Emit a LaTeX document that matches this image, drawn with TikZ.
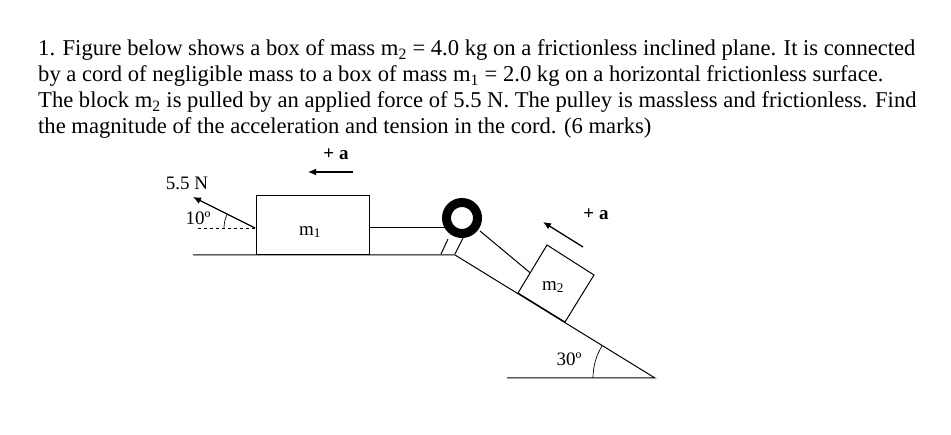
\documentclass[tikz,border=0pt]{standalone}
\usepackage{fontspec}
\setmainfont{Liberation Serif}
\usetikzlibrary{calc,arrows.meta}
\begin{document}
\begin{tikzpicture}[x=1pt,y=-1pt,
  txt/.style={anchor=base west,inner sep=0,font=\fontsize{22.6}{26}\selectfont},
  lbl/.style={inner sep=0,font=\fontsize{19}{22}\selectfont},
  ln/.style={line width=1pt},
  arr/.style={line width=1.3pt,-{Latex[length=8pt,width=7pt]}}]
\useasboundingbox (0,0) rectangle (951,435);
\node[txt] (l1) at (38,56) {1. Figure below shows a box of mass m\textsubscript{2} = 4.0 kg on a frictionless inclined plane. It is connected};
\node[txt] (l2) at (38,82) {by a cord of negligible mass to a box of mass m\textsubscript{1} = 2.0 kg on a horizontal frictionless surface.};
\node[txt] (l3) at (38,108) {The block m\textsubscript{2} is pulled by an applied force of 5.5 N. The pulley is massless and frictionless. Find};
\node[txt] (l4) at (38,134) {the magnitude of the acceleration and tension in the cord. (6 marks)};
% ground
\coordinate (g0) at (193,255); \coordinate (edge) at (455,255);
\coordinate (bot) at (655,378); \coordinate (b0) at (507,378);
\draw[ln] (g0) -- (edge) -- (bot) -- (b0);
% box m1
\node[ln,draw,minimum width=113,minimum height=59,inner sep=0] (m1) at (312.5,225.5) {};
\node[lbl] (m1t) at (310,232) {m\textsubscript{1}};
% pulley
\node[circle,draw,line width=9pt,minimum size=31,inner sep=0] (p) at (462,218) {};
\draw[ln] (441,254) -- (448,239);
\draw[ln] (455,254) -- (463,238);
% cords
\draw[ln] (m1.east |- 0,228) coordinate (c1) -- (446,228) coordinate (c2);
% box m2
\coordinate (q1) at (518,293); \coordinate (q2) at (547,245);
\coordinate (q3) at (594,275); \coordinate (q4) at (565,322);
\draw[ln] (q1) -- (q2) -- (q3) -- (q4) -- cycle;
\node[lbl] (m2t) at (553,287) {m\textsubscript{2}};
\draw[ln] (480,231) -- ($(q1)!0.42!(q2)$);
% arrows
\draw[arr] (353,172) -- (308,172);
\node[lbl,font=\fontsize{19}{22}\selectfont\bfseries] (a1) at (336,154) {+ a};
\draw[arr] (583,247) -- (543,222);
\node[lbl,font=\fontsize{19}{22}\selectfont\bfseries] (a2) at (596,214) {+ a};
% applied force
\draw[arr] (255,228) -- (193,197);
\node[lbl] (f) at (187,183) {5.5 N};
\draw[dashed,line width=0.8pt] (198,228) -- (255,228);
\draw[line width=0.7pt] (224,228) arc[start angle=180,end angle=207,radius=31];
\node[lbl] (ang1) at (198,218) {10º};
% 30 deg
\draw[line width=0.7pt] (593,378) arc[start angle=180,end angle=212,radius=62];
\node[lbl] (ang2) at (569,359) {30º};
\end{tikzpicture}
\end{document}
